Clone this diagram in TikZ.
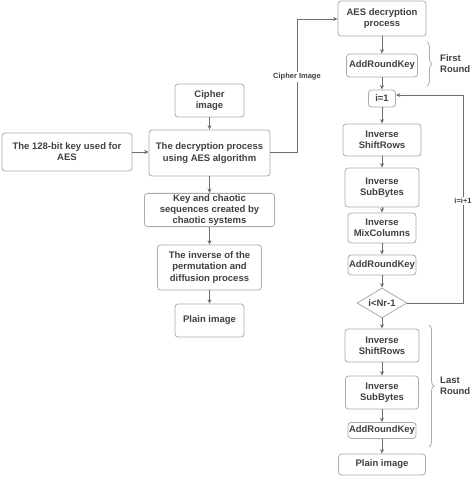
\documentclass[tikz,border=0pt]{standalone}
\usepackage{fontspec}
\setmainfont{Liberation Sans}
\usetikzlibrary{shapes.geometric,arrows.meta,decorations.pathreplacing}
\definecolor{boxline}{HTML}{ABABAB}
\definecolor{txt}{HTML}{404040}
\definecolor{arr}{HTML}{6E6E6E}
\tikzset{
  box/.style={draw=boxline, line width=0.8pt, rounded corners=3pt, align=center,
    inner sep=1pt, text=txt, font=\bfseries\fontsize{9.5}{11.2}\selectfont},
  dia/.style={diamond, aspect=1.7, draw=boxline, line width=0.8pt, inner sep=0.5pt,
    text=txt, font=\bfseries\fontsize{9.5}{11.2}\selectfont},
  conn/.style={draw=arr, line width=0.8pt, -{Stealth[length=4.5pt,width=4pt]}},
  lbl/.style={fill=white, text=txt, inner sep=1.5pt, font=\bfseries\fontsize{7.5}{9}\selectfont},
  sidelbl/.style={text=txt, align=left, font=\bfseries\fontsize{9.5}{11.5}\selectfont, anchor=west, inner sep=0pt},
  brc/.style={draw=boxline, line width=0.8pt, decorate, decoration={brace, amplitude=5pt}}
}
\begin{document}
\begin{tikzpicture}[x=1pt,y=1pt]
\useasboundingbox (0,0) rectangle (474,-477);
% left column
\node[box, minimum width=69, minimum height=33] (cipher) at (209.5,-100.5) {Cipher\\image};
\node[box, minimum width=130, minimum height=38] (key) at (67,-152) {The 128-bit key used for\\AES};
\node[box, minimum width=121, minimum height=46] (dec) at (209.5,-153) {The decryption process\\using AES algorithm};
\node[box, minimum width=130, minimum height=33] (kc) at (209.5,-210) {Key and chaotic\\sequences created by\\chaotic systems};
\node[box, minimum width=104, minimum height=45] (inv) at (209.5,-267.5) {The inverse of the\\permutation and\\diffusion process};
\node[box, minimum width=69, minimum height=33] (plainL) at (209.5,-320.5) {Plain image};
% right column
\node[box, minimum width=88, minimum height=35] (aes) at (382,-18.5) {AES decryption\\process};
\node[box, minimum width=71, minimum height=23] (ark1) at (382,-65.5) {AddRoundKey};
\node[box, minimum width=27, minimum height=17] (i1) at (382,-98.5) {i=1};
\node[box, minimum width=78, minimum height=32] (isr1) at (382,-140) {Inverse\\ShiftRows};
\node[box, minimum width=74, minimum height=39] (isb1) at (382,-187.5) {Inverse\\SubBytes};
\node[box, minimum width=68, minimum height=30] (imc) at (382,-228) {Inverse\\MixColumns};
\node[box, minimum width=66, minimum height=20] (ark2) at (382,-265) {AddRoundKey};
\node[dia, minimum width=50, minimum height=30] (cond) at (382,-303) {i<Nr-1};
\node[box, minimum width=74, minimum height=33] (isr2) at (382,-345.5) {Inverse\\ShiftRows};
\node[box, minimum width=73, minimum height=33] (isb2) at (382,-392.5) {Inverse\\SubBytes};
\node[box, minimum width=67, minimum height=16] (ark3) at (382,-430.5) {AddRoundKey};
\node[box, minimum width=87, minimum height=21] (plainR) at (382,-464.5) {Plain image};
% left connectors
\draw[conn] (cipher) -- (dec);
\draw[conn] (key) -- (key -| dec.west);
\draw[conn] (dec) -- (kc);
\draw[conn] (kc) -- (inv);
\draw[conn] (inv) -- (plainL);
% cipher image link
\coordinate (c1) at (297,-152);
\coordinate (c2) at (297,-19);
\draw[conn] (dec.east |- c1) -- (c1) -- (c2) -- (aes.west |- c2);
\node[lbl] (cil) at (297,-77) {Cipher Image};
% right connectors
\draw[conn] (aes) -- (ark1);
\draw[conn] (ark1) -- (i1);
\draw[conn] (i1) -- (isr1);
\draw[conn] (isr1) -- (isb1);
\draw[conn] (isb1) -- (imc);
\draw[conn] (imc) -- (ark2);
\draw[conn] (ark2) -- (cond);
\draw[conn] (cond) -- (isr2);
\draw[conn] (isr2) -- (isb2);
\draw[conn] (isb2) -- (ark3);
\draw[conn] (ark3) -- (plainR);
% loop
\coordinate (l1) at (463,-303);
\coordinate (l2) at (463,-95);
\draw[conn] (cond.east) -- (l1) -- (l2) -- (i1.east |- l2);
\node[lbl] (inc) at (463,-201) {i=i+1};
% braces
\coordinate (b1t) at (427,-42);
\coordinate (b1b) at (427,-86);
\draw[brc] (b1t) -- (b1b);
\node[sidelbl] (fr) at (440,-63.5) {First\\Round};
\coordinate (b2t) at (429,-325);
\coordinate (b2b) at (429,-447);
\draw[brc] (b2t) -- (b2b);
\node[sidelbl] (lr) at (440,-386) {Last\\Round};
\end{tikzpicture}
\end{document}
